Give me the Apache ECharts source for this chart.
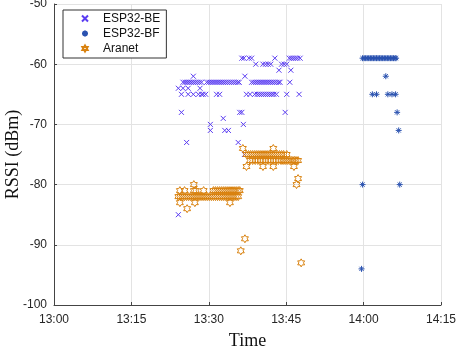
<!DOCTYPE html>
<html>
<head>
<meta charset="UTF-8">
<title>RSSI</title>
<script src="https://cdn.jsdelivr.net/npm/echarts@6/dist/echarts.min.js"></script>
<style>
  html, body { margin: 0; padding: 0; background: #fff; }
  #chart { width: 474px; height: 353px; }
</style>
</head>
<body>
<div id="chart"></div>
<script>
// minutes after 13:00, RSSI in dBm
const xTickLabels = ['13:00', '13:15', '13:30', '13:45', '14:00', '14:15'];
const yTicks = [-100, -90, -80, -70, -60, -50];
const seriesNames = ['ESP32-BE', 'ESP32-BF', 'Aranet'];

const esp32BE = [
  [36.4,-59],[36.8,-59],[37.8,-59],[38.3,-59],[42.8,-59],[45.6,-59],[46.0,-59],[46.4,-59],[46.8,-59],[47.2,-59],[47.7,-59],
  [39.1,-60],[40.5,-60],[41.0,-60],[41.5,-60],[42.0,-60],[44.1,-60],[44.6,-60],[45.1,-60],
  [43.6,-61],[45.9,-61],
  [27.0,-62],[37.0,-62],
  [25.0,-63],[25.4,-63],[25.8,-63],[26.2,-63],[26.6,-63],[27.0,-63],[27.4,-63],[27.8,-63],[28.2,-63],[28.6,-63],
  [29.6,-63],[30.0,-63],[30.4,-63],[30.8,-63],[31.2,-63],[31.6,-63],[32.0,-63],[32.4,-63],[32.8,-63],[33.2,-63],
  [33.6,-63],[34.0,-63],[34.4,-63],[34.8,-63],[35.2,-63],[35.6,-63],[35.9,-63],
  [38.3,-63],[38.7,-63],[39.1,-63],[39.5,-63],[39.9,-63],[40.3,-63],[40.7,-63],[41.1,-63],[41.5,-63],[41.9,-63],
  [42.3,-63],[42.7,-63],[43.1,-63],[43.5,-63],[43.8,-63],[45.7,-63],
  [24.1,-64],[25.0,-64],[26.0,-64],[28.3,-64],
  [24.7,-65],[26.0,-65],[27.0,-65],[28.0,-65],[28.6,-65],[28.9,-65],[29.4,-65],[31.5,-65],[32.1,-65],
  [37.3,-65],[38.0,-65],[38.9,-65],[39.4,-65],[39.8,-65],[40.2,-65],[40.6,-65],[41.0,-65],[41.4,-65],[41.8,-65],
  [42.2,-65],[42.6,-65],[43.1,-65],[45.1,-65],[47.5,-65],
  [24.7,-68],[36.0,-68],[36.4,-68],[44.8,-68],
  [32.8,-69],
  [30.3,-70],[36.7,-70],
  [30.3,-71],[33.1,-71],[33.8,-71],
  [25.7,-73],[35.7,-73],
  [36.9,-75],
  [24.1,-85]
];

const esp32BF = [
  [59.8,-59],[60.1,-59],[60.4,-59],[60.7,-59],[61.0,-59],[61.3,-59],[61.6,-59],[61.9,-59],[62.2,-59],[62.5,-59],
  [62.8,-59],[63.1,-59],[63.4,-59],[63.7,-59],[64.0,-59],[64.3,-59],[64.6,-59],[64.9,-59],[65.2,-59],[65.5,-59],
  [65.8,-59],[66.1,-59],[66.3,-59],
  [64.3,-62],
  [61.7,-65],[62.5,-65],[64.7,-65],[65.5,-65],[66.2,-65],
  [66.5,-68],
  [66.8,-71],
  [59.8,-80],[67.0,-80],
  [59.6,-94]
];

const aranet = [
  [36.6,-74],[42.5,-74],
  [37.3,-75],[37.7,-75],[38.1,-75],[38.5,-75],[38.9,-75],[39.3,-75],[39.7,-75],[40.1,-75],[40.5,-75],[40.9,-75],
  [41.3,-75],[41.7,-75],[42.1,-75],[42.5,-75],[42.9,-75],[43.3,-75],[43.7,-75],[44.1,-75],[44.5,-75],[45.1,-75],
  [38.0,-76],[38.5,-76],[39.0,-76],[39.5,-76],[40.0,-76],[40.5,-76],[41.0,-76],[41.5,-76],[42.0,-76],[42.5,-76],
  [43.0,-76],[43.5,-76],[44.0,-76],[44.4,-76],[44.8,-76],[45.2,-76],[45.6,-76],[46.0,-76],[46.3,-76],[46.6,-76],
  [46.9,-76],[47.3,-76],
  [37.3,-77],[40.5,-77],[42.5,-77],[46.5,-77],
  [47.3,-79],
  [27.1,-80],[47.0,-80],
  [24.4,-81],[25.3,-81],[27.1,-81],[27.5,-81],[29.0,-81],[30.9,-81],[31.3,-81],[31.7,-81],[32.1,-81],[32.5,-81],
  [32.9,-81],[33.3,-81],[33.7,-81],[34.1,-81],[34.5,-81],[34.9,-81],[35.3,-81],[35.7,-81],[36.0,-81],
  [24.1,-82],[24.5,-82],[24.9,-82],[25.3,-82],[25.7,-82],[26.1,-82],[26.5,-82],[26.9,-82],[27.3,-82],[27.7,-82],
  [28.1,-82],[28.5,-82],[28.9,-82],[29.3,-82],[29.7,-82],[30.1,-82],[30.5,-82],[30.9,-82],[31.3,-82],[31.7,-82],
  [32.1,-82],[32.5,-82],[32.9,-82],[33.3,-82],[33.7,-82],[34.1,-82],[34.5,-82],[34.9,-82],[35.3,-82],[35.7,-82],
  [24.4,-83],[27.3,-83],[34.1,-83],
  [25.8,-84],
  [37.0,-89],
  [36.2,-91],
  [47.9,-93]
];

const crossPath = 'path://M0,0L10,10M10,0L0,10';
const starPath = 'path://M5,0L5,10M0,5L10,5M1.5,1.5L8.5,8.5M8.5,1.5L1.5,8.5';
const hexagramPath = 'path://M50,0L64.43,25L93.3,25L78.87,50L93.3,75L64.43,75L50,100L35.57,75L6.7,75L21.13,50L6.7,25L35.57,25Z';

const chart = echarts.init(document.getElementById('chart'));

function scatter(name, data, symbol, size, color) {
  return {
    name: name,
    type: 'scatter',
    data: data,
    symbol: symbol,
    symbolSize: size,
    symbolKeepAspect: true,
    itemStyle: { color: 'rgba(0,0,0,0)', borderColor: color, borderWidth: 1, opacity: 1 },
    emphasis: { disabled: true }
  };
}

const axisText = { fontFamily: 'Liberation Sans', fontSize: 12, color: '#262626' };

chart.setOption({
  animation: false,
  backgroundColor: '#fff',
  grid: { left: 54, right: 33, top: 4, bottom: 48, containLabel: false, outerBoundsMode: 'none' },
  legend: {
    orient: 'vertical',
    left: 63,
    top: 10,
    padding: [1, 6, 2, 18],
    itemWidth: 26,
    itemHeight: 6,
    itemGap: 0,
    backgroundColor: '#fff',
    borderColor: '#333',
    borderWidth: 1,
    textStyle: { fontFamily: 'Liberation Sans', fontSize: 12, color: '#111', lineHeight: 15 },
    data: seriesNames
  },
  xAxis: {
    type: 'value',
    min: 0,
    max: 75,
    interval: 15,
    name: 'Time',
    nameLocation: 'middle',
    nameGap: 27,
    nameTextStyle: { fontFamily: 'Liberation Serif', fontSize: 18, color: '#111' },
    axisLine: { show: true, lineStyle: { color: '#444', width: 1 } },
    axisTick: { show: true, inside: true, length: 3, lineStyle: { color: '#444' } },
    axisLabel: Object.assign({ margin: 9, formatter: v => xTickLabels[Math.round(v / 15)] }, axisText),
    splitLine: { show: true, lineStyle: { color: '#e3e3e3', width: 1 } }
  },
  yAxis: {
    type: 'value',
    min: yTicks[0],
    max: yTicks[yTicks.length - 1],
    interval: 10,
    name: 'RSSI (dBm)',
    nameLocation: 'middle',
    nameGap: 32,
    nameMoveOverlap: false,
    nameTextStyle: { fontFamily: 'Liberation Serif', fontSize: 18, color: '#111' },
    axisLine: { show: true, lineStyle: { color: '#444', width: 1 } },
    axisTick: { show: true, inside: true, length: 3, lineStyle: { color: '#444' } },
    axisLabel: Object.assign({ margin: 7 }, axisText),
    splitLine: { show: true, lineStyle: { color: '#e3e3e3', width: 1 } }
  },
  series: [
    scatter(seriesNames[0], esp32BE, crossPath, 5, '#5a3cf2'),
    scatter(seriesNames[1], esp32BF, starPath, 6, '#2a52b0'),
    scatter(seriesNames[2], aranet, hexagramPath, 8, '#d9820f')
  ]
});
</script>
</body>
</html>
